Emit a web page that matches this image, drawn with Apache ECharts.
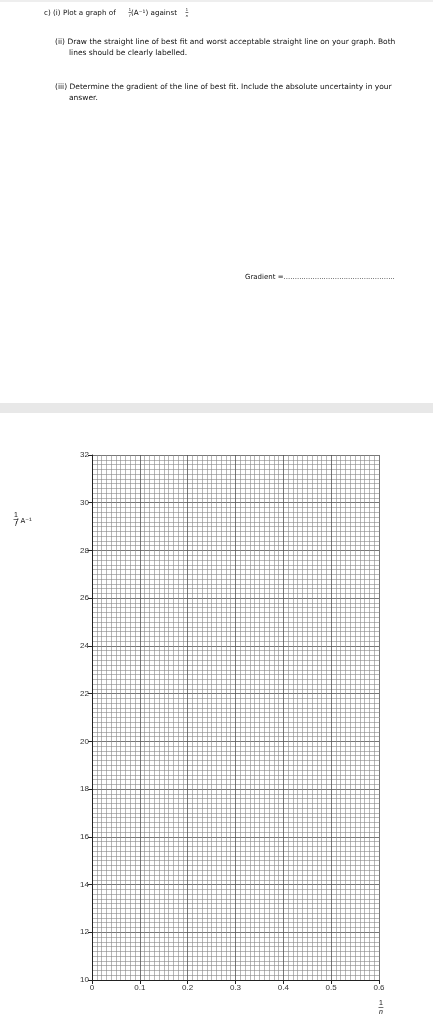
<!DOCTYPE html><html><head><meta charset="utf-8">
<script src="https://cdn.jsdelivr.net/npm/echarts@6/dist/echarts.min.js"></script>
<style>html,body{margin:0;padding:0;background:#fff}#c{width:433px;height:1021px}</style></head><body><div id="c"></div>
<script>
const xTicks=[0,0.1,0.2,0.3,0.4,0.5,0.6];
const yTicks=[10,12,14,16,18,20,22,24,26,28,30,32];
const ch=echarts.init(document.getElementById('c'));
const F='"Liberation Sans",Arial,sans-serif';
const D='"DejaVu Sans",sans-serif';
function t(x,y,s,size,extra){return Object.assign({type:'text',left:x,top:y,style:{text:s,font:(size||7)+'px '+D,fill:'#111'}},extra||{});}
function frac(x,y,num,den,size){return {type:'group',left:x,top:y,children:[
 {type:'text',x:0,y:0,style:{text:num,font:size+'px '+F,fill:'#111',align:'center'}},
 {type:'line',shape:{x1:-size*0.35,y1:size+0.5,x2:size*0.35,y2:size+0.5},style:{stroke:'#111',lineWidth:0.6}},
 {type:'text',x:0,y:size+1.5,style:{text:den,font:'italic '+size+'px '+F,fill:'#111',align:'center'}}]};}
ch.setOption({
 animation:false,
 grid:{left:92,right:54,top:455,bottom:41},
 xAxis:{type:'value',min:0,max:0.6,interval:0.1,
  axisLine:{lineStyle:{color:'#222',width:1}},axisTick:{show:true,length:4,lineStyle:{color:'#222'}},
  axisLabel:{color:'#333',fontSize:8,fontFamily:F,margin:4,formatter:v=>String(+v.toFixed(1))},
  splitLine:{show:true,lineStyle:{color:'#555',width:0.8}},
  minorTick:{show:false,splitNumber:10},minorSplitLine:{show:true,lineStyle:{color:'#888',width:0.6}}},
 yAxis:{type:'value',min:10,max:32,interval:2,
  axisLine:{show:true,lineStyle:{color:'#222',width:1}},axisTick:{show:true,length:4,lineStyle:{color:'#222'}},
  axisLabel:{color:'#333',fontSize:8,fontFamily:F,margin:3},
  splitLine:{show:true,lineStyle:{color:'#555',width:0.8}},
  minorTick:{show:false,splitNumber:10},minorSplitLine:{show:true,lineStyle:{color:'#888',width:0.6}}},
 series:[{type:'line',data:[]}],
 graphic:[
  {type:'rect',left:0,top:0,shape:{width:433,height:2},style:{fill:'#eee'}},
  {type:'rect',left:0,top:403,shape:{width:433,height:10},style:{fill:'#e8e8e8'}},
  t(44,10,'c) (i) Plot a graph of',7.2),
  frac(126,8,'1','I',4),
  t(131,10,'(A⁻¹) against',7.2),
  frac(183,8,'1','n',4),
  t(55,38,'(ii) Draw the straight line of best fit and worst acceptable straight line on your graph. Both',7.5),
  t(69,49,'lines should be clearly labelled.',7.5),
  t(55,83,'(iii) Determine the gradient of the line of best fit. Include the absolute uncertainty in your',7.5),
  t(69,94,'answer.',7.5),
  t(245,274,'Gradient =..................................................',7),
  frac(11,512,'1','I',7),
  t(16,518,'/ A⁻¹',7),
  frac(376,1000,'1','n',7)
 ]
});
</script></body></html>
